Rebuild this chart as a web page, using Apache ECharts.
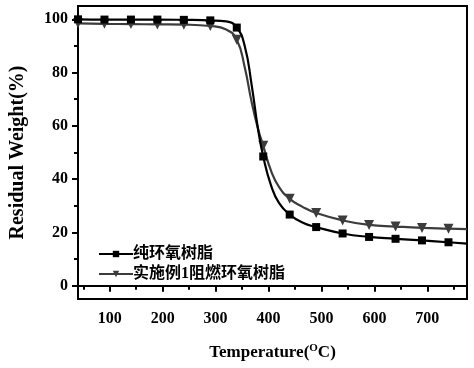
<!DOCTYPE html>
<html>
<head>
<meta charset="utf-8">
<script src="https://cdn.jsdelivr.net/npm/echarts@6/dist/echarts.min.js"></script>
<style>
html,body{margin:0;padding:0;background:#fff;}
#chart{width:474px;height:368px;}
</style>
</head>
<body>
<div id="chart"></div>
<script>
// ---- data ----
var seriesNames = ['纯环氧树脂', '实施例1阻燃环氧树脂'];
// measured points (drawn with markers)
var pureTemps   = [40, 90, 140, 190, 240, 290, 340, 390, 440, 490, 540, 590, 640, 690, 740];
var pureVals    = [100, 99.9, 99.9, 99.9, 99.8, 99.6, 96.9, 48.5, 26.7, 22.0, 19.6, 18.3, 17.6, 17.0, 16.3];
// extra points (no markers)
var pureCurveTemps = [320, 355, 368, 380, 405, 420, 465, 775];
var pureCurveVals  = [99.2, 90.0, 75.5, 59.0, 37.5, 31.0, 23.6, 15.8];

var frTemps   = [40, 90, 140, 190, 240, 290, 340, 390, 440, 490, 540, 590, 640, 690, 740];
var frVals    = [98.5, 98.3, 98.2, 98.1, 98.0, 97.5, 92.3, 52.5, 32.6, 27.3, 24.5, 22.8, 22.2, 21.7, 21.4];
var frCurveTemps = [320, 355, 368, 380, 405, 420, 465, 775];
var frCurveVals  = [96.2, 82.0, 69.0, 59.0, 43.0, 37.0, 29.5, 21.2];

var xLabels = [100, 200, 300, 400, 500, 600, 700];
var xMinorTicks = [50, 150, 250, 350, 450, 550, 650, 750];
var yLabels = [0, 20, 40, 60, 80, 100];
var yMinorTicks = [10, 30, 50, 70, 90];

function buildData(t, v, ct, cv) {
  var pts = [];
  for (var i = 0; i < t.length; i++) pts.push({value: [t[i], v[i]], m: true});
  for (var j = 0; j < ct.length; j++) pts.push({value: [ct[j], cv[j]], m: false});
  pts.sort(function (a, b) { return a.value[0] - b.value[0]; });
  return pts.map(function (p) {
    return p.m ? {value: p.value} : {value: p.value, symbol: 'none'};
  });
}

var FONT = '"Liberation Serif", "Times New Roman", "Noto Sans CJK SC", serif';
var chart = echarts.init(document.getElementById('chart'), null, {renderer: 'canvas'});

var xAxisBase = {type: 'value', min: 40, max: 775, splitLine: {show: false}};
var yAxisBase = {type: 'value', min: -5, max: 105, splitLine: {show: false}};

chart.setOption({
  animation: false,
  backgroundColor: '#fff',
  grid: {left: 72, right: 7, top: 6, bottom: 69, show: true, borderColor: '#000', borderWidth: 2, backgroundColor: 'transparent'},
  legend: {
    orient: 'vertical', left: 93, top: 241,
    itemWidth: 34, itemHeight: 8, itemGap: 4,
    textStyle: {fontFamily: FONT, fontWeight: 'bold', fontSize: 16, color: '#000', padding: [0, 0, 0, -5]},
    data: seriesNames
  },
  xAxis: [
    Object.assign({}, xAxisBase, {
      position: 'bottom',
      axisLine: {show: true, lineStyle: {color: '#000', width: 2}},
      axisTick: {show: true, inside: false, length: 6, lineStyle: {color: '#000', width: 2}, customValues: xLabels},
      axisLabel: {show: true, customValues: xLabels, margin: 12, fontFamily: FONT, fontWeight: 'bold', fontSize: 16, color: '#000'},
      name: 'Temperature({sup|O}C)',
      nameLocation: 'middle', nameGap: 44,
      nameTextStyle: {fontFamily: FONT, fontWeight: 'bold', fontSize: 17, color: '#000',
        rich: {sup: {fontFamily: FONT, fontWeight: 'bold', fontSize: 11, color: '#000', verticalAlign: 'top', padding: [0, 0, 8, 0]}}}
    }),
    Object.assign({}, xAxisBase, {
      position: 'bottom',
      axisLine: {show: false},
      axisTick: {show: true, inside: false, length: 4, lineStyle: {color: '#000', width: 2}, customValues: xMinorTicks},
      axisLabel: {show: false}
    })
  ],
  yAxis: [
    Object.assign({}, yAxisBase, {
      position: 'left',
      axisLine: {show: true, lineStyle: {color: '#000', width: 2}},
      axisTick: {show: true, inside: false, length: 6, lineStyle: {color: '#000', width: 2}, customValues: yLabels},
      axisLabel: {show: true, customValues: yLabels, margin: 10, fontFamily: FONT, fontWeight: 'bold', fontSize: 16, color: '#000'},
      name: 'Residual Weight(%)',
      nameLocation: 'middle', nameGap: 50, nameRotate: 90,
      nameTextStyle: {fontFamily: FONT, fontWeight: 'bold', fontSize: 20, color: '#000'}
    }),
    Object.assign({}, yAxisBase, {
      position: 'left',
      axisLine: {show: false},
      axisTick: {show: true, inside: false, length: 4, lineStyle: {color: '#000', width: 2}, customValues: yMinorTicks},
      axisLabel: {show: false}
    })
  ],
  series: [
    {
      name: seriesNames[0], type: 'line', xAxisIndex: 0, yAxisIndex: 0,
      smooth: 0.5,
      symbol: 'rect', symbolSize: 8, showAllSymbol: true,
      lineStyle: {color: '#000', width: 2.2},
      itemStyle: {color: '#000'},
      data: buildData(pureTemps, pureVals, pureCurveTemps, pureCurveVals),
      z: 3
    },
    {
      name: seriesNames[1], type: 'line', xAxisIndex: 0, yAxisIndex: 0,
      smooth: 0.5,
      symbol: 'triangle', symbolRotate: 180, symbolSize: 10, showAllSymbol: true,
      lineStyle: {color: '#3c3c3c', width: 2.2},
      itemStyle: {color: '#3c3c3c'},
      data: buildData(frTemps, frVals, frCurveTemps, frCurveVals),
      z: 2
    }
  ]
});
</script>
</body>
</html>
